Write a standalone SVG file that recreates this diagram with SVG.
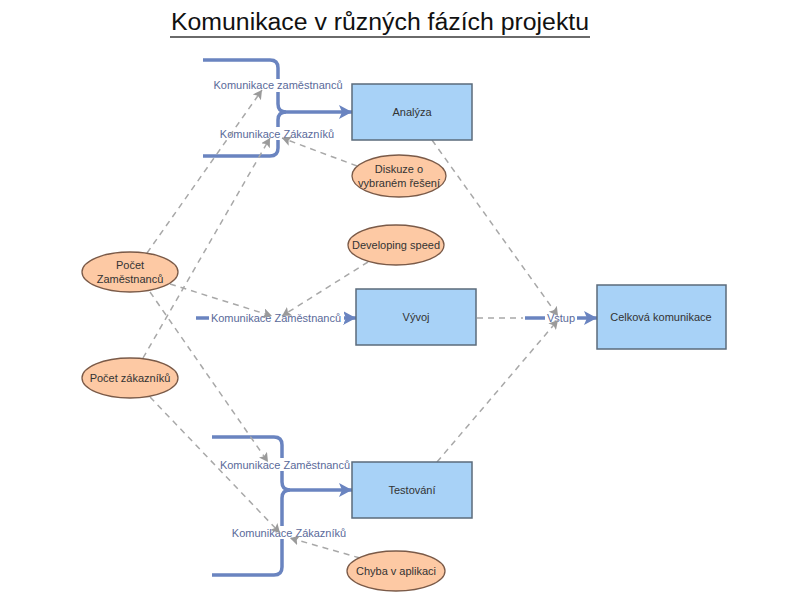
<svg xmlns="http://www.w3.org/2000/svg" width="800" height="600" viewBox="0 0 800 600">
<defs>
<marker id="blueArrow" markerUnits="userSpaceOnUse" markerWidth="14" markerHeight="14" refX="13" refY="7" orient="auto">
<path d="M0,0 L13,7 L0,14 L3,7 z" fill="#6a84c0"/>
</marker>
<marker id="grayArrow" markerUnits="userSpaceOnUse" markerWidth="10" markerHeight="10" refX="9" refY="5" orient="auto">
<path d="M0,0 L9,5 L0,10 L2,5 z" fill="#9a9a9a"/>
</marker>
</defs>
<style>
.box{fill:#a8d2f7;stroke:#5b6b7b;stroke-width:1.5}
.ell{fill:#fdc9a4;stroke:#7a5a48;stroke-width:1.3}
.ntext{font-family:"Liberation Sans","DejaVu Sans",sans-serif;font-size:11px;fill:#333;text-anchor:middle}
.blue{fill:none;stroke:#6a84c0;stroke-width:3.5}
.dash{fill:none;stroke:#a8a8a8;stroke-width:1.5;stroke-dasharray:6,5}
.lbl{font-family:"Liberation Sans","DejaVu Sans",sans-serif;font-size:11px;fill:#5a6a9a;text-anchor:middle}
.bg{fill:#ffffff}
</style>
<rect width="800" height="600" fill="#ffffff"/>
<g id="title">
<text x="380" y="30" font-family="Liberation Sans, DejaVu Sans, sans-serif" font-size="23" fill="#111" text-anchor="middle" textLength="418" lengthAdjust="spacingAndGlyphs">Komunikace v různých fázích projektu</text>
<line x1="170" y1="37" x2="590" y2="37" stroke="#6a6a6a" stroke-width="1.8"/>
</g>
<g id="connectors">
<path class="blue" d="M203,60 H270 Q278,60 278,68 V104 Q278,112 286,112"/>
<path class="blue" d="M203,156 H270 Q278,156 278,148 V120 Q278,112 286,112"/>
<path class="blue" d="M286,112 H352" marker-end="url(#blueArrow)"/>
<path class="blue" d="M212,437 H274 Q282,437 282,445 V482 Q282,490 290,490"/>
<path class="blue" d="M212,575 H274 Q282,575 282,567 V498 Q282,490 290,490"/>
<path class="blue" d="M290,490 H352" marker-end="url(#blueArrow)"/>
<path class="blue" d="M196,318 H356" marker-end="url(#blueArrow)"/>
<path class="blue" d="M525,318 H597" marker-end="url(#blueArrow)"/>
<rect class="bg" x="212" y="79" width="132" height="13"/>
<text class="lbl" x="278" y="89">Komunikace zaměstnanců</text>
<rect class="bg" x="219" y="127" width="117" height="13"/>
<text class="lbl" x="277" y="138">Komunikace Zákazníků</text>
<rect class="bg" x="209" y="311" width="135" height="13"/>
<text class="lbl" x="276" y="322">Komunikace Zaměstnanců</text>
<rect class="bg" x="218" y="458" width="134" height="13"/>
<text class="lbl" x="285" y="469">Komunikace Zaměstnanců</text>
<rect class="bg" x="231" y="526" width="117" height="13"/>
<text class="lbl" x="289" y="537">Komunikace Zákazníků</text>
<rect class="bg" x="545" y="311" width="32" height="13"/>
<text class="lbl" x="561" y="322">Vstup</text>
<path class="dash" d="M147,253 L262,90" marker-end="url(#grayArrow)"/>
<path class="dash" d="M143,358 L270,138" marker-end="url(#grayArrow)"/>
<path class="dash" d="M357,166 L282,138" marker-end="url(#grayArrow)"/>
<path class="dash" d="M170,284 L272,316" marker-end="url(#grayArrow)"/>
<path class="dash" d="M368,262 L282,316" marker-end="url(#grayArrow)"/>
<path class="dash" d="M150,292 L268,462" marker-end="url(#grayArrow)"/>
<path class="dash" d="M150,397 L280,533" marker-end="url(#grayArrow)"/>
<path class="dash" d="M360,558 L290,538" marker-end="url(#grayArrow)"/>
<path class="dash" d="M432,140 L558,316" marker-end="url(#grayArrow)"/>
<path class="dash" d="M477,318 L523,318"/>
<path class="dash" d="M437,462 L558,320" marker-end="url(#grayArrow)"/>
</g>
<g id="analyza">
<rect class="box" x="352" y="84" width="120" height="56"/>
<text class="ntext" x="412" y="116">Analýza</text>
</g>
<g id="vyvoj">
<rect class="box" x="356" y="289" width="120" height="56"/>
<text class="ntext" x="416" y="321">Vývoj</text>
</g>
<g id="testovani">
<rect class="box" x="352" y="462" width="120" height="56"/>
<text class="ntext" x="412" y="494">Testování</text>
</g>
<g id="celkova">
<rect class="box" x="597" y="285" width="129" height="64"/>
<text class="ntext" x="661" y="321">Celková komunikace</text>
</g>
<g id="diskuze">
<ellipse class="ell" cx="399" cy="176" rx="47" ry="21"/>
<text class="ntext" x="399" y="173">Diskuze o</text>
<text class="ntext" x="399" y="187">vybraném řešení</text>
</g>
<g id="developing">
<ellipse class="ell" cx="396" cy="245" rx="48" ry="20"/>
<text class="ntext" x="396" y="249">Developing speed</text>
</g>
<g id="pocet-zamestnancu">
<ellipse class="ell" cx="130" cy="272" rx="48" ry="20"/>
<text class="ntext" x="130" y="269">Počet</text>
<text class="ntext" x="130" y="283">Zaměstnanců</text>
</g>
<g id="pocet-zakazniku">
<ellipse class="ell" cx="130" cy="378" rx="48" ry="20"/>
<text class="ntext" x="130" y="382">Počet zákazníků</text>
</g>
<g id="chyba">
<ellipse class="ell" cx="396" cy="571" rx="49" ry="20"/>
<text class="ntext" x="396" y="575">Chyba v aplikaci</text>
</g>
</svg>
